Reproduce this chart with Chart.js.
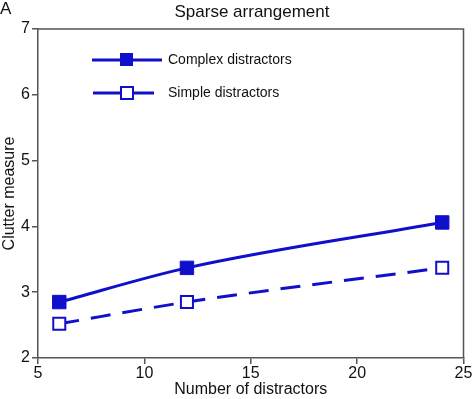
<!DOCTYPE html>
<html>
<head>
<meta charset="utf-8">
<script src="https://cdn.jsdelivr.net/npm/chart.js@4"></script>
<style>
  html, body { margin: 0; padding: 0; background: #fff; }
  #wrap { width: 474px; height: 399px; position: relative; }
</style>
</head>
<body>
<div id="wrap"><canvas id="c" width="474" height="399"></canvas></div>
<script>
// Sparse arrangement - clutter measure vs number of distractors
const distractorCounts = [6, 12, 24];
const complexValues = [2.85, 3.37, 4.06];
const simpleValues = [2.52, 2.85, 3.37];
const xTicks = [5, 10, 15, 20, 25];
const yTicks = [2, 3, 4, 5, 6, 7];

const blue = '#0f0fcc';
const axisGrey = '#555';
const font = 'Liberation Sans, Arial, Helvetica, sans-serif';

// frame (top/right), panel letter, title and in-plot legend
const decorations = {
  id: 'decorations',
  afterDraw(chart) {
    const { ctx, chartArea: a } = chart;
    ctx.save();
    ctx.strokeStyle = axisGrey;
    ctx.lineWidth = 1.5;
    ctx.beginPath();
    ctx.moveTo(a.left, a.top);
    ctx.lineTo(a.right, a.top);
    ctx.lineTo(a.right, a.bottom);
    ctx.stroke();

    ctx.fillStyle = '#111';
    ctx.font = '17px ' + font;
    ctx.textBaseline = 'middle';
    ctx.textAlign = 'left';
    ctx.fillText('A', 0, 9);
    ctx.textAlign = 'center';
    ctx.fillText('Sparse arrangement', 252, 12);

    const rows = [
      { y: 60, label: 'Complex distractors', filled: true },
      { y: 93, label: 'Simple distractors', filled: false },
    ];
    rows.forEach(r => {
      ctx.strokeStyle = blue;
      ctx.lineWidth = 3;
      ctx.beginPath();
      if (r.filled) {
        ctx.moveTo(92, r.y); ctx.lineTo(162, r.y);
      } else {
        ctx.moveTo(93, r.y); ctx.lineTo(154, r.y);
      }
      ctx.stroke();
      if (r.filled) {
        ctx.fillStyle = blue;
        ctx.fillRect(120, r.y - 7, 13, 13);
      } else {
        ctx.fillStyle = '#fff';
        ctx.fillRect(121, r.y - 6, 12, 12);
        ctx.lineWidth = 2;
        ctx.strokeRect(121, r.y - 6, 12, 12);
      }
      ctx.fillStyle = '#111';
      ctx.font = '14px ' + font;
      ctx.textAlign = 'left';
      ctx.fillText(r.label, 168, r.y);
    });
    ctx.restore();
  }
};

const toPoints = vals => vals.map((v, i) => ({ x: distractorCounts[i], y: v }));

new Chart(document.getElementById('c'), {
  type: 'line',
  data: {
    datasets: [
      {
        label: 'Complex distractors',
        data: toPoints(complexValues),
        borderColor: blue,
        backgroundColor: blue,
        borderWidth: 3,
        pointStyle: 'rect',
        pointRadius: 9.5,
        pointBorderWidth: 1,
        cubicInterpolationMode: 'monotone',
      },
      {
        label: 'Simple distractors',
        data: toPoints(simpleValues),
        borderColor: blue,
        backgroundColor: '#fff',
        borderWidth: 3,
        borderDash: [20, 12],
        pointStyle: 'rect',
        pointRadius: 8.5,
        pointBorderWidth: 2,
        cubicInterpolationMode: 'monotone',
      },
    ],
  },
  options: {
    responsive: false,
    animation: false,
    layout: { padding: { top: 29, right: 8, left: 0, bottom: 0 } },
    plugins: { legend: { display: false }, tooltip: { enabled: false } },
    scales: {
      x: {
        type: 'linear',
        min: 5, max: 25,
        afterBuildTicks: s => { s.ticks = xTicks.map(v => ({ value: v })); },
        afterFit: s => { s.height = 41; },
        grid: { drawOnChartArea: false, drawTicks: true, tickLength: 6, color: axisGrey, lineWidth: 1.5 },
        border: { color: axisGrey, width: 1.5 },
        ticks: { color: '#111', font: { family: font, size: 16 }, padding: 0, maxRotation: 0 },
        title: { display: true, text: 'Number of distractors', color: '#111', font: { family: font, size: 16 }, padding: { top: 0, bottom: 0 } },
      },
      y: {
        min: 2, max: 7,
        afterBuildTicks: s => { s.ticks = yTicks.map(v => ({ value: v })); },
        afterFit: s => { s.width = 38; },
        grid: { drawOnChartArea: false, drawTicks: true, tickLength: 6, color: axisGrey, lineWidth: 1.5 },
        border: { color: axisGrey, width: 1.5 },
        ticks: { color: '#111', font: { family: font, size: 16 }, padding: 2 },
        title: { display: true, text: 'Clutter measure', color: '#111', font: { family: font, size: 16 }, padding: { top: 0, bottom: 0 } },
      },
    },
  },
  plugins: [decorations],
});
</script>
</body>
</html>
